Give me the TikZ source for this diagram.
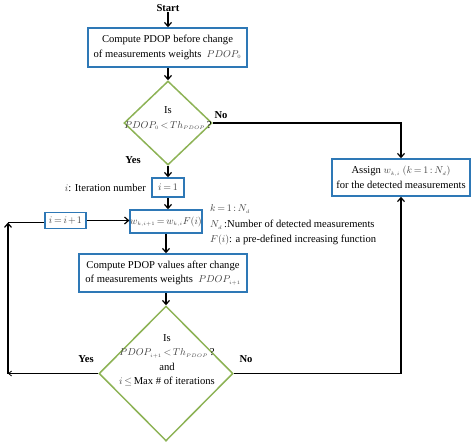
\documentclass[tikz,border=0pt]{standalone}
\usepackage{fontspec}
\setmainfont{Liberation Serif}
\usetikzlibrary{shapes.geometric,arrows.meta}
\definecolor{boxblue}{RGB}{46,120,182}
\definecolor{decgreen}{RGB}{141,179,86}
\newcommand{\fsz}{\fontsize{10.6}{14.5}\selectfont}
\newcommand{\mg}[1]{\textcolor{black!75}{\fontsize{9.6}{14.5}\selectfont\thickmuskip=3mu\medmuskip=2mu$#1$}}
\newcommand{\sss}[1]{_{\scriptscriptstyle #1}}
\tikzset{
  procbox/.style={draw=boxblue, line width=1.5pt, inner sep=0pt, align=center, font=\fsz},
  decbox/.style={draw=decgreen, line width=1.5pt, shape=diamond, inner sep=0pt},
  txt/.style={inner sep=0pt, align=center, font=\fsz},
  arr/.style={line width=1.2pt, -{Straight Barb[length=4pt,width=7pt,line width=1.2pt]}},
  thinarr/.style={line width=0.8pt, -{Straight Barb[length=3pt,width=5pt,line width=0.8pt]}},
  plainline/.style={line width=1.2pt},
}
\begin{document}
\begin{tikzpicture}[x=1pt,y=-1pt]
\useasboundingbox (0,0) rectangle (474,445);
% nodes
\node[txt, font=\fsz\bfseries] (start) at (168,8) {Start};
\node[procbox, minimum width=159pt, minimum height=39pt] (b1) at (167.5,47.5)
  {Compute PDOP before change\\ of measurements weights~ \mg{PDOP\sss{0}}};
\node[decbox, minimum width=88pt, minimum height=84pt] (d1) at (168,123) {};
\node[txt] (d1t) at (168,118.5) {Is\\ \mg{PDOP\sss{0}<Th\sss{PDOP}}\,?};
\node[txt, font=\fsz\bfseries] (no1) at (221,115) {No};
\node[txt, font=\fsz\bfseries] (yes1) at (133,160) {Yes};
\node[procbox, minimum width=138pt, minimum height=37pt] (asg) at (401,177.5)
  {Assign \mg{w\sss{k,i}}\ \mg{(k=1:N\sss{d})}\\ for the detected measurements};
\node[procbox, minimum width=32pt, minimum height=19pt] (i1) at (168,187.5) {\mg{i=1}};
\node[txt, anchor=east] (itl) at (146,188) {\mg{i}: Iteration number};
\node[procbox, minimum width=66pt, minimum height=23pt] (w) at (166,221.5) {\mg{w\sss{k,i+1}=w\sss{k,i}F(i)}};
\node[txt, anchor=west] (s1) at (210,209) {\mg{k=1:N\sss{d}}};
\node[txt, anchor=west] (s2) at (210,225) {\mg{N\sss{d}}\,:Number of detected measurements};
\node[txt, anchor=west] (s3) at (210,240) {\mg{F(i)}: a pre-defined increasing function};
\node[procbox, minimum width=41pt, minimum height=16pt] (inc) at (65.5,220.5) {\mg{i=i+1}};
\node[procbox, minimum width=168pt, minimum height=38pt] (b3) at (163,273)
  {Compute PDOP values after change\\ of measurements weights~ \mg{PDOP\sss{i+1}}};
\node[decbox, minimum width=134pt, minimum height=135pt] (d2) at (166,373.5) {};
\node[txt] (d2t) at (167,360) {Is\\ \mg{PDOP\sss{i+1}<Th\sss{PDOP}}\,?\\ and\\ \mg{i\le{}}Max \# of iterations};
\node[txt, font=\fsz\bfseries] (yes2) at (86,359) {Yes};
\node[txt, font=\fsz\bfseries] (no2) at (246,359) {No};
\coordinate (cl) at (8,373.5);
\coordinate (ct) at (8,222.5);
% connectors
\draw[arr] (start.south) -- (b1.north -| start.south);
\draw[arr] (b1.south -| d1.north) -- (d1.north);
\draw[arr] (d1.south) -- (i1.north);
\draw[arr] (i1.south) -- (i1.south |- w.north);
\draw[arr] (inc.east) -- (inc.east -| w.west);
\draw[arr] (w.south) -- (w.south |- b3.north);
\draw[arr] (b3.south -| d2.north) -- (d2.north);
\draw[arr] (d1.east) -| (asg.north);
\draw[arr] (d2.east) -| (asg.south);
\draw[thinarr] (d2.west) -- (cl);
\draw[arr] (cl) -- (ct);
\draw[plainline] (ct) -- (ct -| inc.west);
\end{tikzpicture}
\end{document}
